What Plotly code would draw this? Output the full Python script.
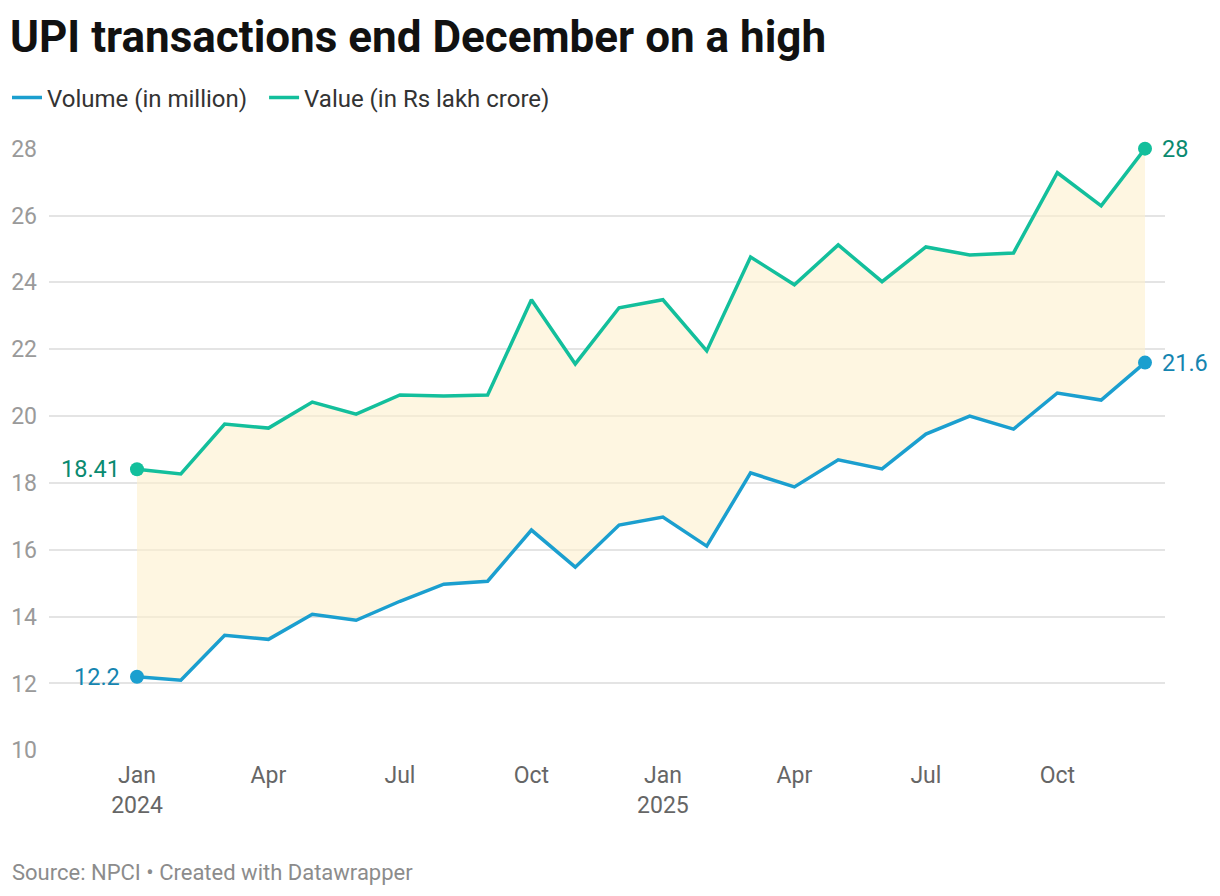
import plotly.graph_objects as go

months = ["Jan 2024", "Feb 2024", "Mar 2024", "Apr 2024", "May 2024", "Jun 2024",
          "Jul 2024", "Aug 2024", "Sep 2024", "Oct 2024", "Nov 2024", "Dec 2024",
          "Jan 2025", "Feb 2025", "Mar 2025", "Apr 2025", "May 2025", "Jun 2025",
          "Jul 2025", "Aug 2025", "Sep 2025", "Oct 2025", "Nov 2025", "Dec 2025"]
volume = [12.2, 12.10, 13.44, 13.32, 14.07, 13.89, 14.46, 14.97, 15.06, 16.59, 15.48, 16.74,
          16.98, 16.11, 18.30, 17.88, 18.69, 18.42, 19.46, 20.00, 19.61, 20.69, 20.48, 21.6]
value = [18.41, 18.27, 19.76, 19.64, 20.42, 20.06, 20.63, 20.60, 20.63, 23.48, 21.56, 23.24,
         23.48, 21.95, 24.76, 23.93, 25.12, 24.02, 25.06, 24.82, 24.88, 27.28, 26.29, 28.0]
tick_idx = [0, 3, 6, 9, 12, 15, 18, 21]
tick_text = ["Jan<br>2024", "Apr", "Jul", "Oct", "Jan<br>2025", "Apr", "Jul", "Oct"]
y_ticks = [10, 12, 14, 16, 18, 20, 22, 24, 26, 28]

x = list(range(len(months)))
BLUE = "#1b9fcf"
GREEN = "#13bf9c"
FONT = "Roboto"

fig = go.Figure()
# shaded band between the two series
fig.add_trace(go.Scatter(x=x, y=volume, mode="lines", line=dict(width=0, color="rgba(0,0,0,0)"),
                         showlegend=False, hoverinfo="skip"))
fig.add_trace(go.Scatter(x=x, y=value, mode="lines", line=dict(width=0, color="rgba(0,0,0,0)"),
                         fill="tonexty", fillcolor="rgba(253,240,205,0.6)",
                         showlegend=False, hoverinfo="skip"))
# lines
fig.add_trace(go.Scatter(x=x, y=volume, mode="lines", name="Volume (in million)\u00a0\u00a0",
                         line=dict(color=BLUE, width=3.5), customdata=months,
                         hovertemplate="%{customdata}: %{y}<extra></extra>"))
fig.add_trace(go.Scatter(x=x, y=value, mode="lines", name="Value (in Rs lakh crore)",
                         line=dict(color=GREEN, width=3.5), customdata=months,
                         hovertemplate="%{customdata}: %{y}<extra></extra>"))
# end markers
ends = [0, len(x) - 1]
fig.add_trace(go.Scatter(x=[x[i] for i in ends], y=[volume[i] for i in ends], mode="markers",
                         marker=dict(color=BLUE, size=14), showlegend=False, hoverinfo="skip",
                         cliponaxis=False))
fig.add_trace(go.Scatter(x=[x[i] for i in ends], y=[value[i] for i in ends], mode="markers",
                         marker=dict(color=GREEN, size=14), showlegend=False, hoverinfo="skip",
                         cliponaxis=False))

annotations = []
def fmt(v):
    return ("%g" % v)
LBL = 23.5
annotations.append(dict(x=x[0], y=value[0], text=fmt(value[0]), xanchor="right", xshift=-15,
                        showarrow=False, font=dict(family=FONT, size=LBL, color="#0a8a70")))
annotations.append(dict(x=x[0], y=volume[0], text=fmt(volume[0]), xanchor="right", xshift=-15,
                        showarrow=False, font=dict(family=FONT, size=LBL, color="#1585b0")))
annotations.append(dict(x=x[-1], y=value[-1], text=fmt(value[-1]), xanchor="left", xshift=15,
                        showarrow=False, font=dict(family=FONT, size=LBL, color="#0a8a70")))
annotations.append(dict(x=x[-1], y=volume[-1], text=fmt(volume[-1]), xanchor="left", xshift=15,
                        showarrow=False, font=dict(family=FONT, size=LBL, color="#1585b0")))
annotations.append(dict(xref="paper", yref="paper", x=0, y=0, xshift=-39, yshift=-121,
                        xanchor="left", yanchor="middle", showarrow=False,
                        text="Source: NPCI • Created with Datawrapper",
                        font=dict(family=FONT, size=22, color="#8c8c8c")))

px_per = 1008 / 23
x_left = 0 - 88 / px_per
x_right = 23 + 20 / px_per

fig.update_layout(
    width=1220, height=896,
    margin=dict(l=49, r=55, t=148, b=145, autoexpand=False),
    paper_bgcolor="white", plot_bgcolor="white",
    font=dict(family=FONT, size=23, color="#555555"),
    title=dict(text="<b>UPI transactions end December on a high</b>", x=10 / 1220,
               xref="container", xanchor="left", y=1 - 37 / 896, yanchor="middle",
               yref="container", font=dict(family=FONT, size=44, color="#111111")),
    legend=dict(orientation="h", x=-42 / 1116, xanchor="left", y=1 + 50 / 603, yanchor="middle",
                font=dict(family=FONT, size=24, color="#333333"), itemwidth=30,
                bgcolor="rgba(0,0,0,0)", traceorder="normal"),
    xaxis=dict(range=[x_left, x_right], tickvals=tick_idx, ticktext=tick_text, showgrid=False,
               zeroline=False, showline=False, ticks="", ticklabelstandoff=8,
               tickfont=dict(size=23, color="#666666"), fixedrange=True),
    yaxis=dict(range=[9.98, 28.02], tickvals=y_ticks, showgrid=True, gridcolor="#e4e4e4",
               gridwidth=1.5, zeroline=False, showline=False, ticks="", ticklabelstandoff=11,
               tickfont=dict(size=23, color="#9a9a9a"), fixedrange=True),
    annotations=annotations,
    showlegend=True,
)

fig.write_html("out.html")
